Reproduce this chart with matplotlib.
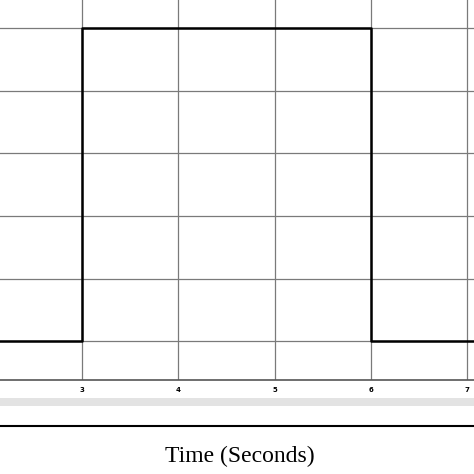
import matplotlib
matplotlib.use("Agg")
import matplotlib.pyplot as plt
from matplotlib.patches import Rectangle
from matplotlib.lines import Line2D

time_s = [2.0, 3, 3, 6, 6, 8.0]
signal = [0, 0, 5, 5, 0, 0]
xticks = [3, 4, 5, 6, 7]
ygrid = [0, 1, 2, 3, 4, 5]

fig = plt.figure(figsize=(4.74, 4.74), dpi=100)
ax = fig.add_axes([0, 1 - 380/474, 1, 380/474])
ax.set_xlim(2.148, 7.07)
ax.set_ylim(-0.62, 5.45)
for x in xticks:
    ax.axvline(x, color="#7a7a7a", lw=0.9, zorder=1)
for y in ygrid:
    ax.axhline(y, color="#7a7a7a", lw=0.9, zorder=1)
ax.plot(time_s, signal, color="black", lw=1.8, zorder=3)
for s in ["top", "left", "right"]:
    ax.spines[s].set_visible(False)
ax.spines["bottom"].set_color("#555555")
ax.spines["bottom"].set_linewidth(1.2)
ax.set_yticks([])
ax.set_xticks(xticks)
ax.set_xticklabels([str(x) for x in xticks], fontsize=5, fontweight="bold")
ax.tick_params(axis="x", length=0, pad=5)

fig.patches.append(Rectangle((0, 1 - 406/474), 1, 8/474, transform=fig.transFigure,
                             facecolor="#e3e3e3", edgecolor="none"))
fig.lines.append(Line2D([0, 1], [1 - 426/474]*2, transform=fig.transFigure, color="black", lw=1.5))
fig.text(0.505, 1 - 456/474, "Time (Seconds)", ha="center", va="center",
         fontsize=17, family="Liberation Serif")
fig.savefig("out.png", dpi=100)
